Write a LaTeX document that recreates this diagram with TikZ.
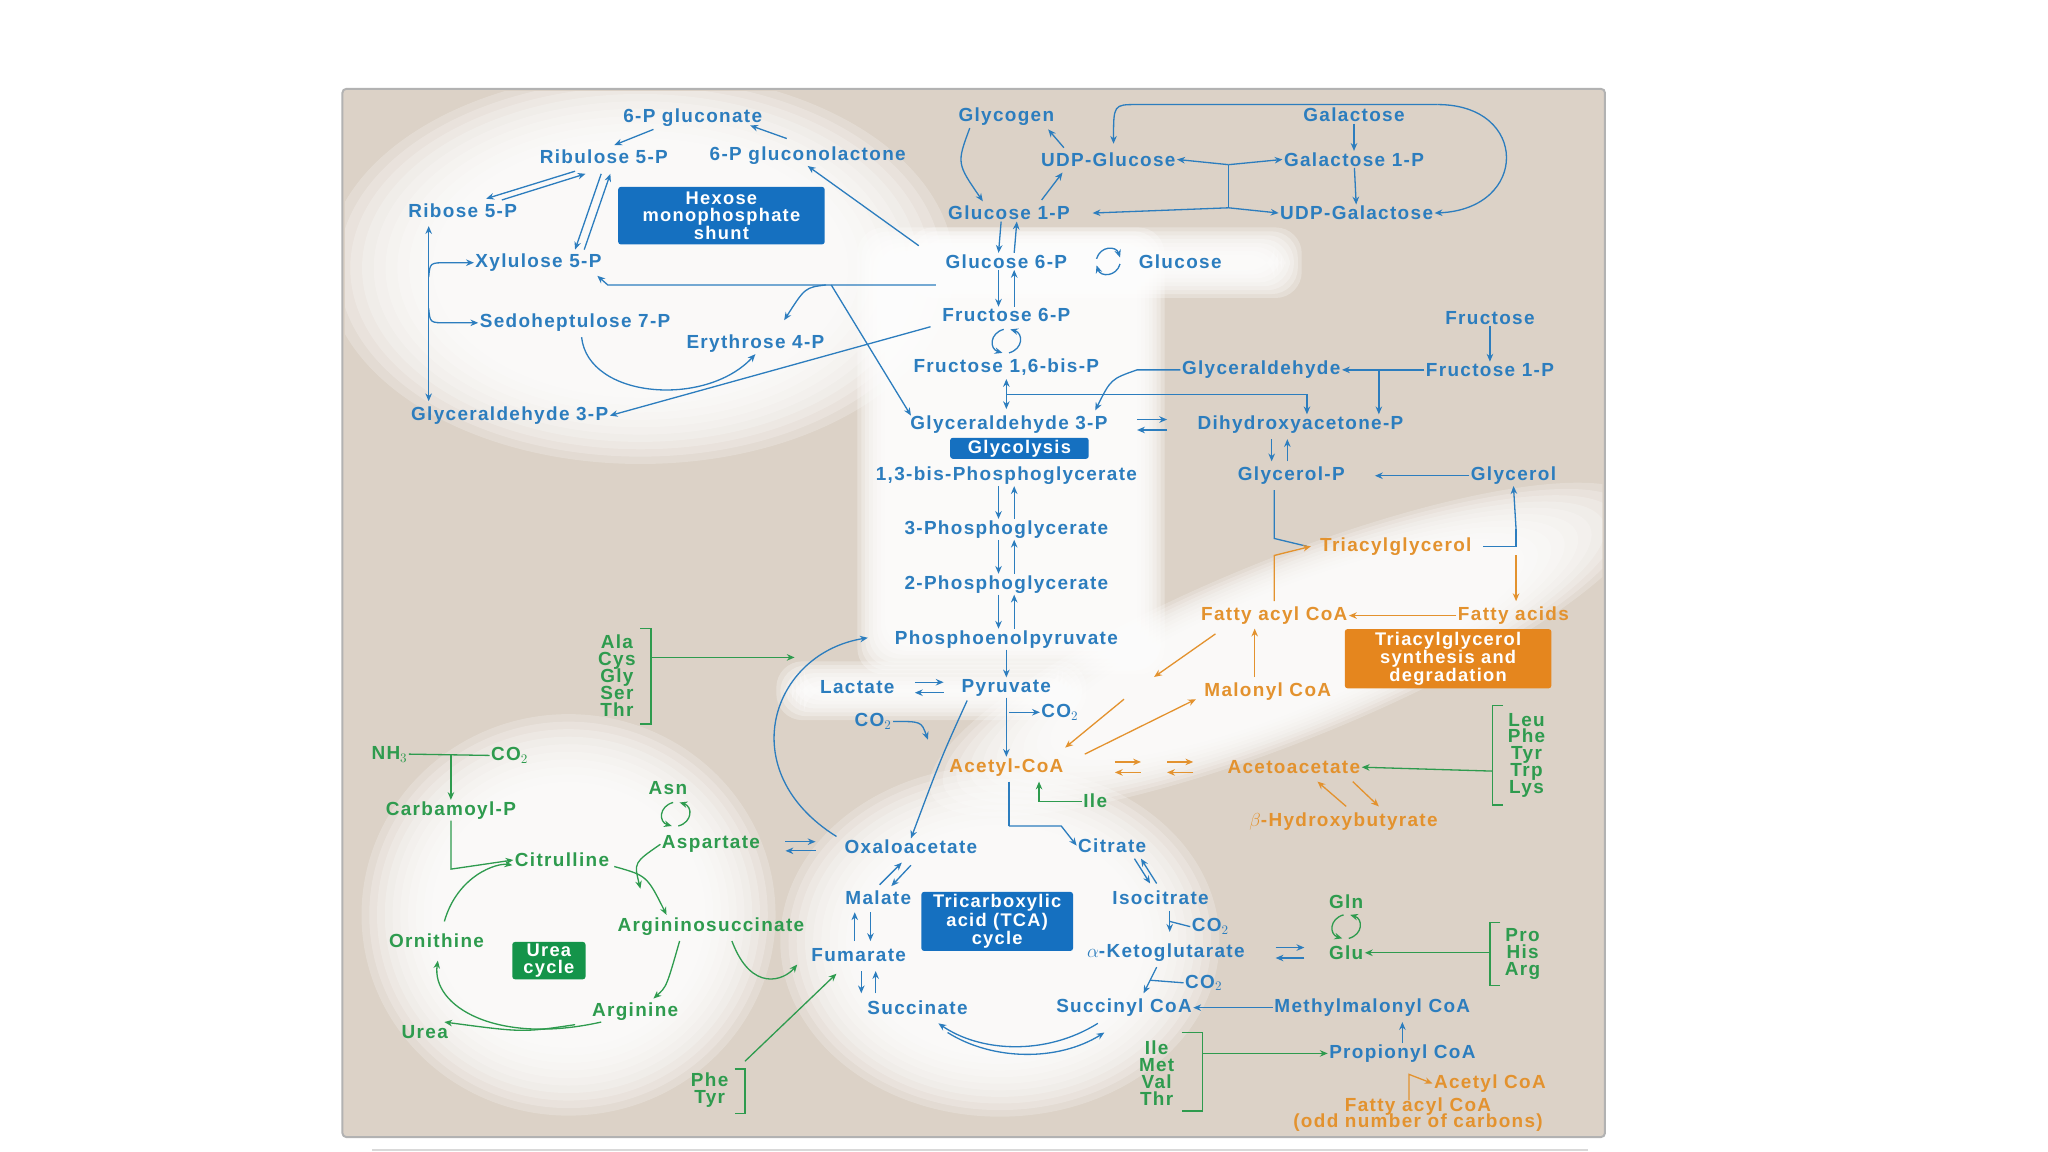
\documentclass[tikz,border=0pt]{standalone}
\usepackage{fontspec}
\setmainfont[LetterSpace=7]{Liberation Sans}
\usetikzlibrary{arrows.meta,calc}
\definecolor{bg}{HTML}{DCD2C7}
\definecolor{bl}{HTML}{2C7DBE}
\definecolor{bbox}{HTML}{1570C0}
\definecolor{gr}{HTML}{2E9B4E}
\definecolor{gbox}{HTML}{14944A}
\definecolor{orc}{HTML}{E3922E}
\definecolor{obox}{HTML}{E5861E}
\tikzset{
 t/.style={font=\fontsize{14.5}{15}\selectfont\bfseries,inner sep=1pt},
 b/.style={t,text=bl}, g/.style={t,text=gr}, o/.style={t,text=orc},
 boxn/.style={font=\fontsize{14}{13}\selectfont\bfseries,text=white,align=center,rounded corners=2pt,inner sep=2pt},
 ar/.style={-{Stealth[length=6pt,width=5pt]},line width=1pt},
 ln/.style={line width=1pt},
}
\newcommand{\glowE}[4]{\foreach \k in {0,...,9}{\fill[white,opacity=0.22,rotate around={#4:#1}] #1 ellipse ({#2*(1.2-0.045*\k)} and {#3*(1.2-0.045*\k)});}}
\newcommand{\glowR}[2]{\foreach \k in {0,...,7}{\fill[white,opacity=0.28,rounded corners=20pt] ($#1+(-\k*3+15,-\k*3+15)$) rectangle ($#2+(\k*3-15,\k*3-15)$);}}
\newcommand{\dpair}[2]{\draw[ar,bl] ([xshift=-6pt]#1.south) -- ([xshift=-6pt]#2.north); \draw[ar,bl] ([xshift=6pt]#2.north) -- ([xshift=6pt]#1.south);}
\newcommand{\cycV}[3]{\draw[ar,#3] (#1-2,#2-9) .. controls (#1-13,#2-6) and (#1-13,#2+6) .. (#1-3,#2+9); \draw[ar,#3] (#1+2,#2+9) .. controls (#1+13,#2+6) and (#1+13,#2-6) .. (#1+3,#2-9);}
\newcommand{\cycH}[3]{\draw[ar,#3] (#1-9,#2-2) .. controls (#1-6,#2-12) and (#1+6,#2-12) .. (#1+9,#2-3); \draw[ar,#3] (#1+9,#2+2) .. controls (#1+6,#2+12) and (#1-6,#2+12) .. (#1-9,#2+3);}
\begin{document}
\begin{tikzpicture}[x=1pt,y=-1pt]
\useasboundingbox (0,0) rectangle (1567,881);
\fill[white] (0,0) rectangle (1567,881);
\draw[gray!60,line width=1.5pt,fill=bg,rounded corners=3pt] (262,68) rectangle (1228,870);
\draw[gray!30,line width=1.5pt] (285,880) -- (1215,880);
% glows
\begin{scope}
\clip (264,70) rectangle (1226,868);
\glowE{(490,205)}{200}{125}{0}
\glowR{(662,180)}{(885,510)}
\glowR{(700,180)}{(990,222)}
\glowR{(600,512)}{(825,545)}
\glowE{(985,497)}{245}{58}{22}
\glowE{(765,720)}{140}{112}{0}
\glowE{(435,700)}{132}{128}{0}
\end{scope}
% pentose nodes
\node[b] (gluconate) at (530,90) {6-P gluconate};
\node[b] (ribulose) at (462,120) {Ribulose 5-P};
\node[b] (lactone) at (618,119) {6-P gluconolactone};
\node[boxn,fill=bbox,minimum width=158pt,minimum height=44pt] (hms) at (552,165) {Hexose\\monophosphate\\shunt};
\node[b] (ribose) at (354,161) {Ribose 5-P};
\node[b] (xyl) at (412,201) {Xylulose 5-P};
\node[b] (sedo) at (440,247) {Sedoheptulose 7-P};
\node[b] (ery) at (578,263) {Erythrose 4-P};
\node[b] (ga3pL) at (390,318) {Glyceraldehyde 3-P};
% glycogen/galactose
\node[b] (glycogen) at (770,89) {Glycogen};
\node[b] (udpglc) at (848,122) {UDP-Glucose};
\node[b] (gal) at (1036,88) {Galactose};
\node[b] (gal1p) at (1036,122) {Galactose 1-P};
\node[b] (udpgal) at (1038,163) {UDP-Galactose};
\node[b] (g1p) at (772,163) {Glucose 1-P};
\node[b] (g6p) at (770,200) {Glucose 6-P};
\node[b] (glc) at (903,200) {Glucose};
\node[b] (f6p) at (770,241) {Fructose 6-P};
\node[b] (f16) at (770,281) {Fructose 1,6-bis-P};
\node[b] (fru) at (1140,243) {Fructose};
\node[b] (glyald) at (965,283) {Glyceraldehyde};
\node[b] (f1p) at (1140,283) {Fructose 1-P};
\node[b] (ga3p) at (772,325) {Glyceraldehyde 3-P};
\node[b] (dhap) at (995,325) {Dihydroxyacetone-P};
\node[boxn,fill=bbox,inner sep=1.5pt,minimum width=106pt] (glyco) at (780,343) {Glycolysis};
\node[b] (bpg) at (770,364) {1,3-bis-Phosphoglycerate};
\node[b] (glyp) at (988,364) {Glycerol-P};
\node[b] (glycerol) at (1158,364) {Glycerol};
\node[b] (pg3) at (770,405) {3-Phosphoglycerate};
\node[b] (pg2) at (770,447) {2-Phosphoglycerate};
\node[b] (pep) at (770,489) {Phosphoenolpyruvate};
\node[b] (lac) at (656,526) {Lactate};
\node[b] (pyr) at (770,526) {Pyruvate};
\node[b] (co2a) at (668,552) {CO$_2$};
\node[b] (co2b) at (811,545) {CO$_2$};
\node[b] (oaa) at (697,648) {Oxaloacetate};
\node[b] (cit) at (851,647) {Citrate};
\node[b] (mal) at (672,687) {Malate};
\node[b] (iso) at (888,687) {Isocitrate};
\node[boxn,fill=bbox,minimum width=116pt,minimum height=42pt] (tca) at (763,705) {Tricarboxylic\\acid (TCA)\\cycle};
\node[b] (co2c) at (926,709) {CO$_2$};
\node[b] (fum) at (657,731) {Fumarate};
\node[b] (akg) at (892,729) {$\alpha$-Ketoglutarate};
\node[b] (co2d) at (921,752) {CO$_2$};
\node[b] (suc) at (702,771) {Succinate};
\node[b] (succoa) at (860,771) {Succinyl CoA};
\node[b] (mmcoa) at (1050,771) {Methylmalonyl CoA};
\node[b] (propcoa) at (1073,806) {Propionyl CoA};
% orange
\node[o] (tag) at (1068,418) {Triacylglycerol};
\node[o] (facoa) at (975,471) {Fatty acyl CoA};
\node[o] (fa) at (1158,471) {Fatty acids};
\node[boxn,fill=obox,minimum width=158pt,minimum height=44pt] (tagbox) at (1108,504) {Triacylglycerol\\synthesis and\\degradation};
\node[o] (malcoa) at (970,529) {Malonyl CoA};
\node[o] (acoa) at (770,587) {Acetyl-CoA};
\node[o] (acac) at (990,587) {Acetoacetate};
\node[o] (bhb) at (1028,629) {$\beta$-Hydroxybutyrate};
\node[o] (acoa2) at (1140,829) {Acetyl CoA};
\node[o,align=center] (oddfa) at (1085,853) {Fatty acyl CoA\\[-3pt](odd number of carbons)};
% green
\node[g,align=center] (aa1) at (472,517) {Ala\\[-2pt]Cys\\[-2pt]Gly\\[-2pt]Ser\\[-2pt]Thr};
\node[g,align=center] (aa2) at (1168,578) {Leu\\[-2pt]Phe\\[-2pt]Tyr\\[-2pt]Trp\\[-2pt]Lys};
\node[g,align=center] (aa3) at (1165,730) {Pro\\[-2pt]His\\[-2pt]Arg};
\node[g,align=center] (aa4) at (885,821) {Ile\\[-2pt]Met\\[-2pt]Val\\[-2pt]Thr};
\node[g,align=center] (aa5) at (543,834) {Phe\\[-2pt]Tyr};
\node[g] (nh3) at (298,577) {NH$_3$};
\node[g] (co2u) at (390,578) {CO$_2$};
\node[g] (carb) at (345,620) {Carbamoyl-P};
\node[g] (asn) at (511,603) {Asn};
\node[g] (asp) at (544,646) {Aspartate};
\node[g] (citr) at (430,658) {Citrulline};
\node[g] (args) at (544,709) {Argininosuccinate};
\node[g] (orn) at (334,720) {Ornithine};
\node[boxn,fill=gbox,inner sep=1.5pt,minimum width=56pt] (urea) at (420,735) {Urea\\cycle};
\node[g] (arg) at (486,774) {Arginine};
\node[g] (ureaN) at (325,790) {Urea};
\node[g] (ile) at (838,613) {Ile};
\node[g] (gln) at (1030,690) {Gln};
\node[g] (glu) at (1030,729) {Glu};
% brackets
\draw[ln,gr] (490,481) -- (498,481) -- (498,554) -- (490,554);
\draw[ln,gr] (1150,540) -- (1142,540) -- (1142,616) -- (1150,616);
\draw[ln,gr] (1148,706) -- (1140,706) -- (1140,754) -- (1148,754);
\draw[ln,gr] (904,790) -- (920,790) -- (920,850) -- (904,850);
\draw[ln,gr] (562,818) -- (570,818) -- (570,852) -- (562,852);
\coordinate (b1) at (498,503); \coordinate (b2) at (1142,590); \coordinate (b3) at (1140,729); \coordinate (b4) at (920,806); \coordinate (b5) at (570,812);
% ===== blue arrows: pentose
\draw[ar,bl] (602,106) -- (574,96);
\draw[ar,bl] (500,99) -- (470,111);
\draw[ar,bl] (703,188) -- (lactone.south);
\draw[ar,bl] (440,131) -- (372,152);
\draw[ar,bl] (384,153) -- (448,133);
\draw[ar,bl] (460,133) -- (440,191);
\draw[ar,bl] (447,191) -- (467,133);
\draw[ar,bl] (328,240) -- (328,173);
\draw[ar,bl] (328,240) -- (328,307);
\draw[ar,bl] (328,212) .. controls (329,201) .. (342,201) -- (xyl.west);
\draw[ar,bl] (328,236) .. controls (329,247) .. (342,247) -- (sedo.west);
\draw[ar,bl] (716,218) -- (465,218) -- (457,211);
\draw[ar,bl] (632,218) .. controls (616,220) .. (600,245);
\draw[ar,bl] (636,218) -- (697,318);
\draw[ar,bl] (445,258) .. controls (450,305) and (540,312) .. (ery.south);
\draw[ar,bl] (712,250) -- (ga3pL.east);
% glycogen / galactose
\draw[ar,bl] (742,98) .. controls (732,125) .. (752,154);
\draw[ar,bl] (797,153) -- (813,132);
\draw[ar,bl] (814,113) -- (802,99);
\draw[ar,bl] (gal) -- (gal1p);
\draw[ar,bl] (gal1p) -- (udpgal);
\draw[ln,bl] (940,126) -- (940,159);
\draw[ar,bl] (940,126) -- (udpglc.east);
\draw[ar,bl] (940,126) -- (gal1p.west);
\draw[ar,bl] (940,159) -- (836,163);
\draw[ar,bl] (940,159) -- (udpgal.west);
\draw[ar,bl] (1100,80) .. controls (1170,80) and (1170,160) .. (udpgal.east);
\draw[ar,bl] (1100,80) -- (870,80) .. controls (852,80) .. (852,110);
\dpair{g1p}{g6p}
\dpair{g6p}{f6p}
\cycH{848}{200}{bl}
\cycV{770}{261}{bl}
\draw[ar,bl] (770,292) -- (770,313);
\draw[ar,bl] (770,302) -- (770,290);
\draw[ar,bl] (770,302) -- (1000,302) -- (1000,317);
\draw[ar,bl] (glyald.west) -- (870,283) .. controls (850,290) .. (838,314);
\draw[ar,bl] (fru) -- (f1p);
\draw[ar,bl] (f1p.west) -- (glyald.east);
\draw[ar,bl] (1055,283) -- (1055,317);
\draw[ar,bl] (870,321) -- (893,321);
\draw[ar,bl] (893,329) -- (870,329);
\draw[ar,bl] (973,336) -- (973,353);
\draw[ar,bl] (985,353) -- (985,336);
\draw[ar,bl] (glycerol.west) -- (1052,364);
\dpair{bpg}{pg3}
\dpair{pg3}{pg2}
\dpair{pg2}{pep}
\draw[ar,bl] (pep) -- (pyr);
\draw[ar,bl] (700,522) -- (722,522);
\draw[ar,bl] (722,530) -- (700,530);
\draw[ar,bl] (pyr.south) -- (acoa.north);
\draw[ar,bl] (772,545) -- (co2b.west);
\draw[ln,bl] (975,375) -- (975,412) -- (1000,418);
\draw[ar,bl] (1160,405) -- (glycerol.south);
\draw[ln,bl] (1135,418) -- (1160,418) -- (1160,405);
% pyruvate/oaa
\draw[ar,bl] (740,536) .. controls (720,580) .. (oaa.north);
\draw[ar,bl] (640,640) .. controls (560,590) and (590,500) .. (664,488);
\draw[ar,bl] (co2a.east) .. controls (705,552) .. (710,566);
\draw[ln,bl] (772,598) -- (772,632);
\draw[ar,bl] (772,632) -- (812,632) -- (cit.west);
\draw[ar,bl] (601,644) -- (624,644);
\draw[ar,bl] (624,651) -- (601,651);
% TCA
\draw[ar,bl] (868,657) -- (880,676);
\draw[ar,bl] (885,676) -- (873,657);
\draw[ar,bl] (895,697) -- (895,713);
\draw[ln,bl] (895,705) -- (co2c.west);
\draw[ar,bl] (885,740) -- (875,760);
\draw[ln,bl] (880,750) -- (co2d.west);
\draw[ar,bl] (840,783) .. controls (800,808) and (750,805) .. (718,783);
\draw[ar,bl] (725,790) .. controls (760,812) and (810,812) .. (845,790);
\draw[ar,bl] (659,743) -- (659,760);
\draw[ar,bl] (670,760) -- (670,743);
\draw[ar,bl] (654,720) -- (654,698);
\draw[ar,bl] (666,698) -- (666,720);
\draw[ar,bl] (673,677) -- (690,660);
\draw[ar,bl] (697,662) -- (682,678);
\draw[ar,bl] (976,725) -- (998,725);
\draw[ar,bl] (998,733) -- (976,733);
\draw[ar,bl] (mmcoa.west) -- (succoa.east);
\draw[ar,bl] (propcoa.north) -- (1073,782);
% orange arrows
\draw[ar,orc] (975,460) -- (975,425) -- (1003,418);
\draw[ar,orc] (1160,425) -- (1160,460);
\draw[ar,orc] (fa.west) -- (facoa.east);
\draw[ar,orc] (960,518) -- (960,481);
\draw[ar,orc] (930,485) -- (883,518);
\draw[ar,orc] (860,535) -- (815,572);
\draw[ar,orc] (830,577) -- (915,535);
\draw[ar,orc] (853,583) -- (873,583);
\draw[ar,orc] (873,591) -- (853,591);
\draw[ar,orc] (893,583) -- (913,583);
\draw[ar,orc] (913,591) -- (893,591);
\draw[ar,orc] (1030,617) -- (1008,598);
\draw[ar,orc] (1035,598) -- (1055,617);
\draw[ar,orc] (1078,842) -- (1078,822) -- (acoa2.west);
% green arrows
\draw[ar,gr] (b1) -- (608,503);
\draw[ar,gr] (b2) -- (acac.east);
\draw[ar,gr] (b3) -- (glu.east);
\draw[ar,gr] (b4) -- (propcoa.west);
\draw[ar,gr] (b5) -- (640,745);
\draw[ar,gr] (ile.west) -- (795,613) -- (795,598);
\cycV{1030}{709}{gr}
\cycV{517}{623}{gr}
\draw[ln,gr] (nh3.east) -- (co2u.west);
\draw[ar,gr] (345,578) -- (carb.north);
\draw[ar,gr] (carb.south) -- (345,665) -- (citr.west);
\draw[ar,gr] (470,663) .. controls (495,670) .. (510,700);
\draw[ar,gr] (asp.west) .. controls (485,660) .. (490,680);
\draw[ar,gr] (520,720) .. controls (510,755) .. (500,764);
\draw[ar,gr] (560,720) .. controls (575,760) and (600,750) .. (610,738);
\draw[ar,gr] (460,782) .. controls (380,800) and (330,770) .. (335,735);
\draw[ar,gr] (340,705) .. controls (350,670) and (380,660) .. (392,662);
\draw[ar,gr] (440,784) .. controls (400,790) .. (340,782);
\end{tikzpicture}
\end{document}
